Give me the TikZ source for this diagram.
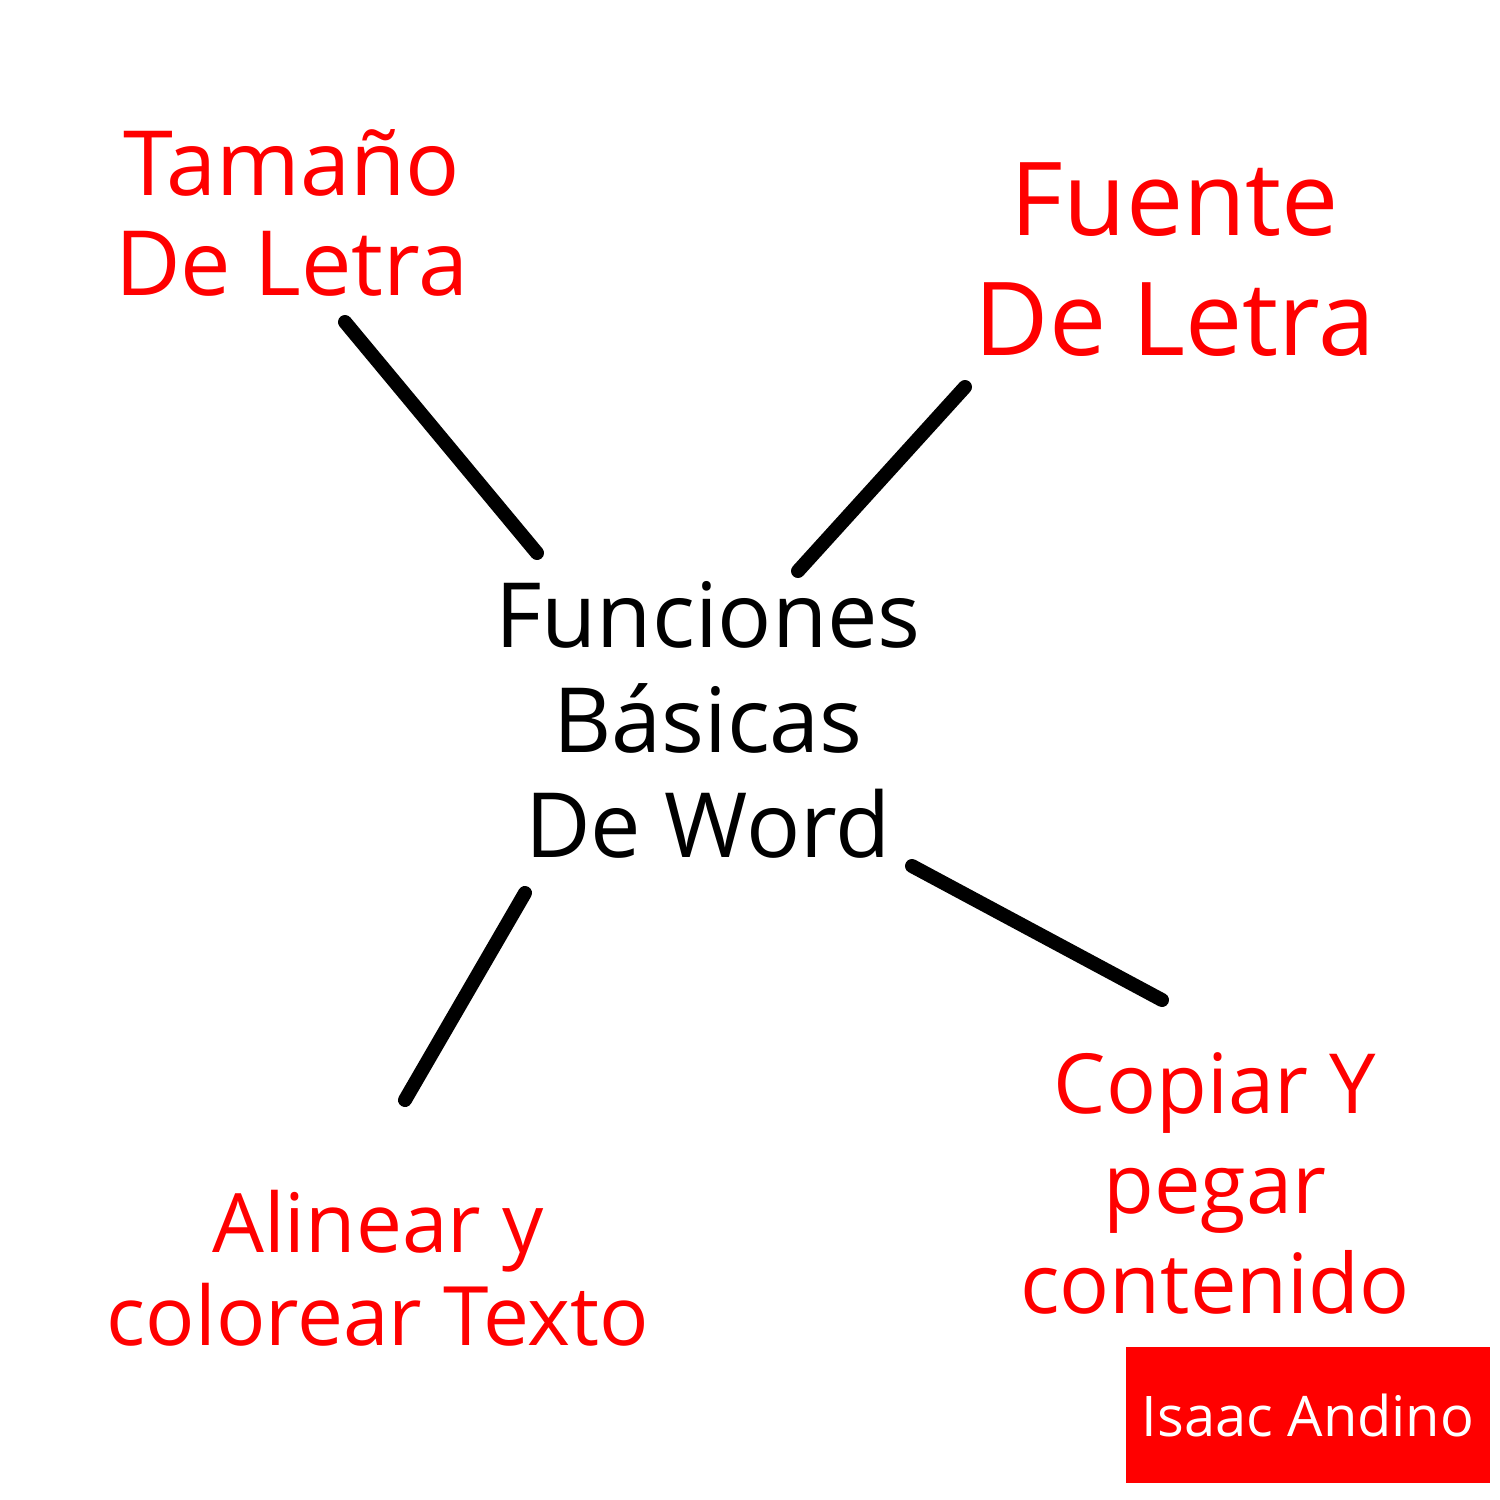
\documentclass[tikz,border=0pt]{standalone}
\usepackage{fontspec}
\setmainfont{Open Sans}
\begin{document}
\begin{tikzpicture}[x=1pt,y=-1pt,
  lbl/.style={align=center,text=red,inner sep=0pt},
  conn/.style={line width=14pt,line cap=round}]
\useasboundingbox (0,0) rectangle (1500,1500);
\fill[white] (0,0) rectangle (1500,1500);
\node[lbl,font=\fontsize{90}{100}\selectfont] (tam) at (292,213) {Tamaño\\De Letra};
\node[lbl,font=\fontsize{102}{120}\selectfont] (fue) at (1175,260) {Fuente\\De Letra};
\node[lbl,text=black,font=\fontsize{90}{105}\selectfont] (cen) at (708,720) {Funciones\\Básicas\\De Word};
\node[lbl,font=\fontsize{82}{93}\selectfont] (ali) at (378,1268) {Alinear y\\colorear Texto};
\node[lbl,font=\fontsize{83}{100}\selectfont] (cop) at (1215,1183) {Copiar Y\\pegar\\contenido};
\node[fill=red,minimum width=364pt,minimum height=136pt,inner sep=0pt] (box) at (1308,1415) {};
\node[text=white,font=\fontsize{56}{60}\selectfont] (isa) at (box) {Isaac Andino};
\coordinate (a1) at (345,322); \coordinate (a2) at (537,553);
\coordinate (b1) at (965,387); \coordinate (b2) at (798,571);
\coordinate (c1) at (525,893); \coordinate (c2) at (405,1100);
\coordinate (d1) at (912,866); \coordinate (d2) at (1162,1000);
\draw[conn] (a1) -- (a2);
\draw[conn] (b1) -- (b2);
\draw[conn] (c1) -- (c2);
\draw[conn] (d1) -- (d2);
\end{tikzpicture}
\end{document}
